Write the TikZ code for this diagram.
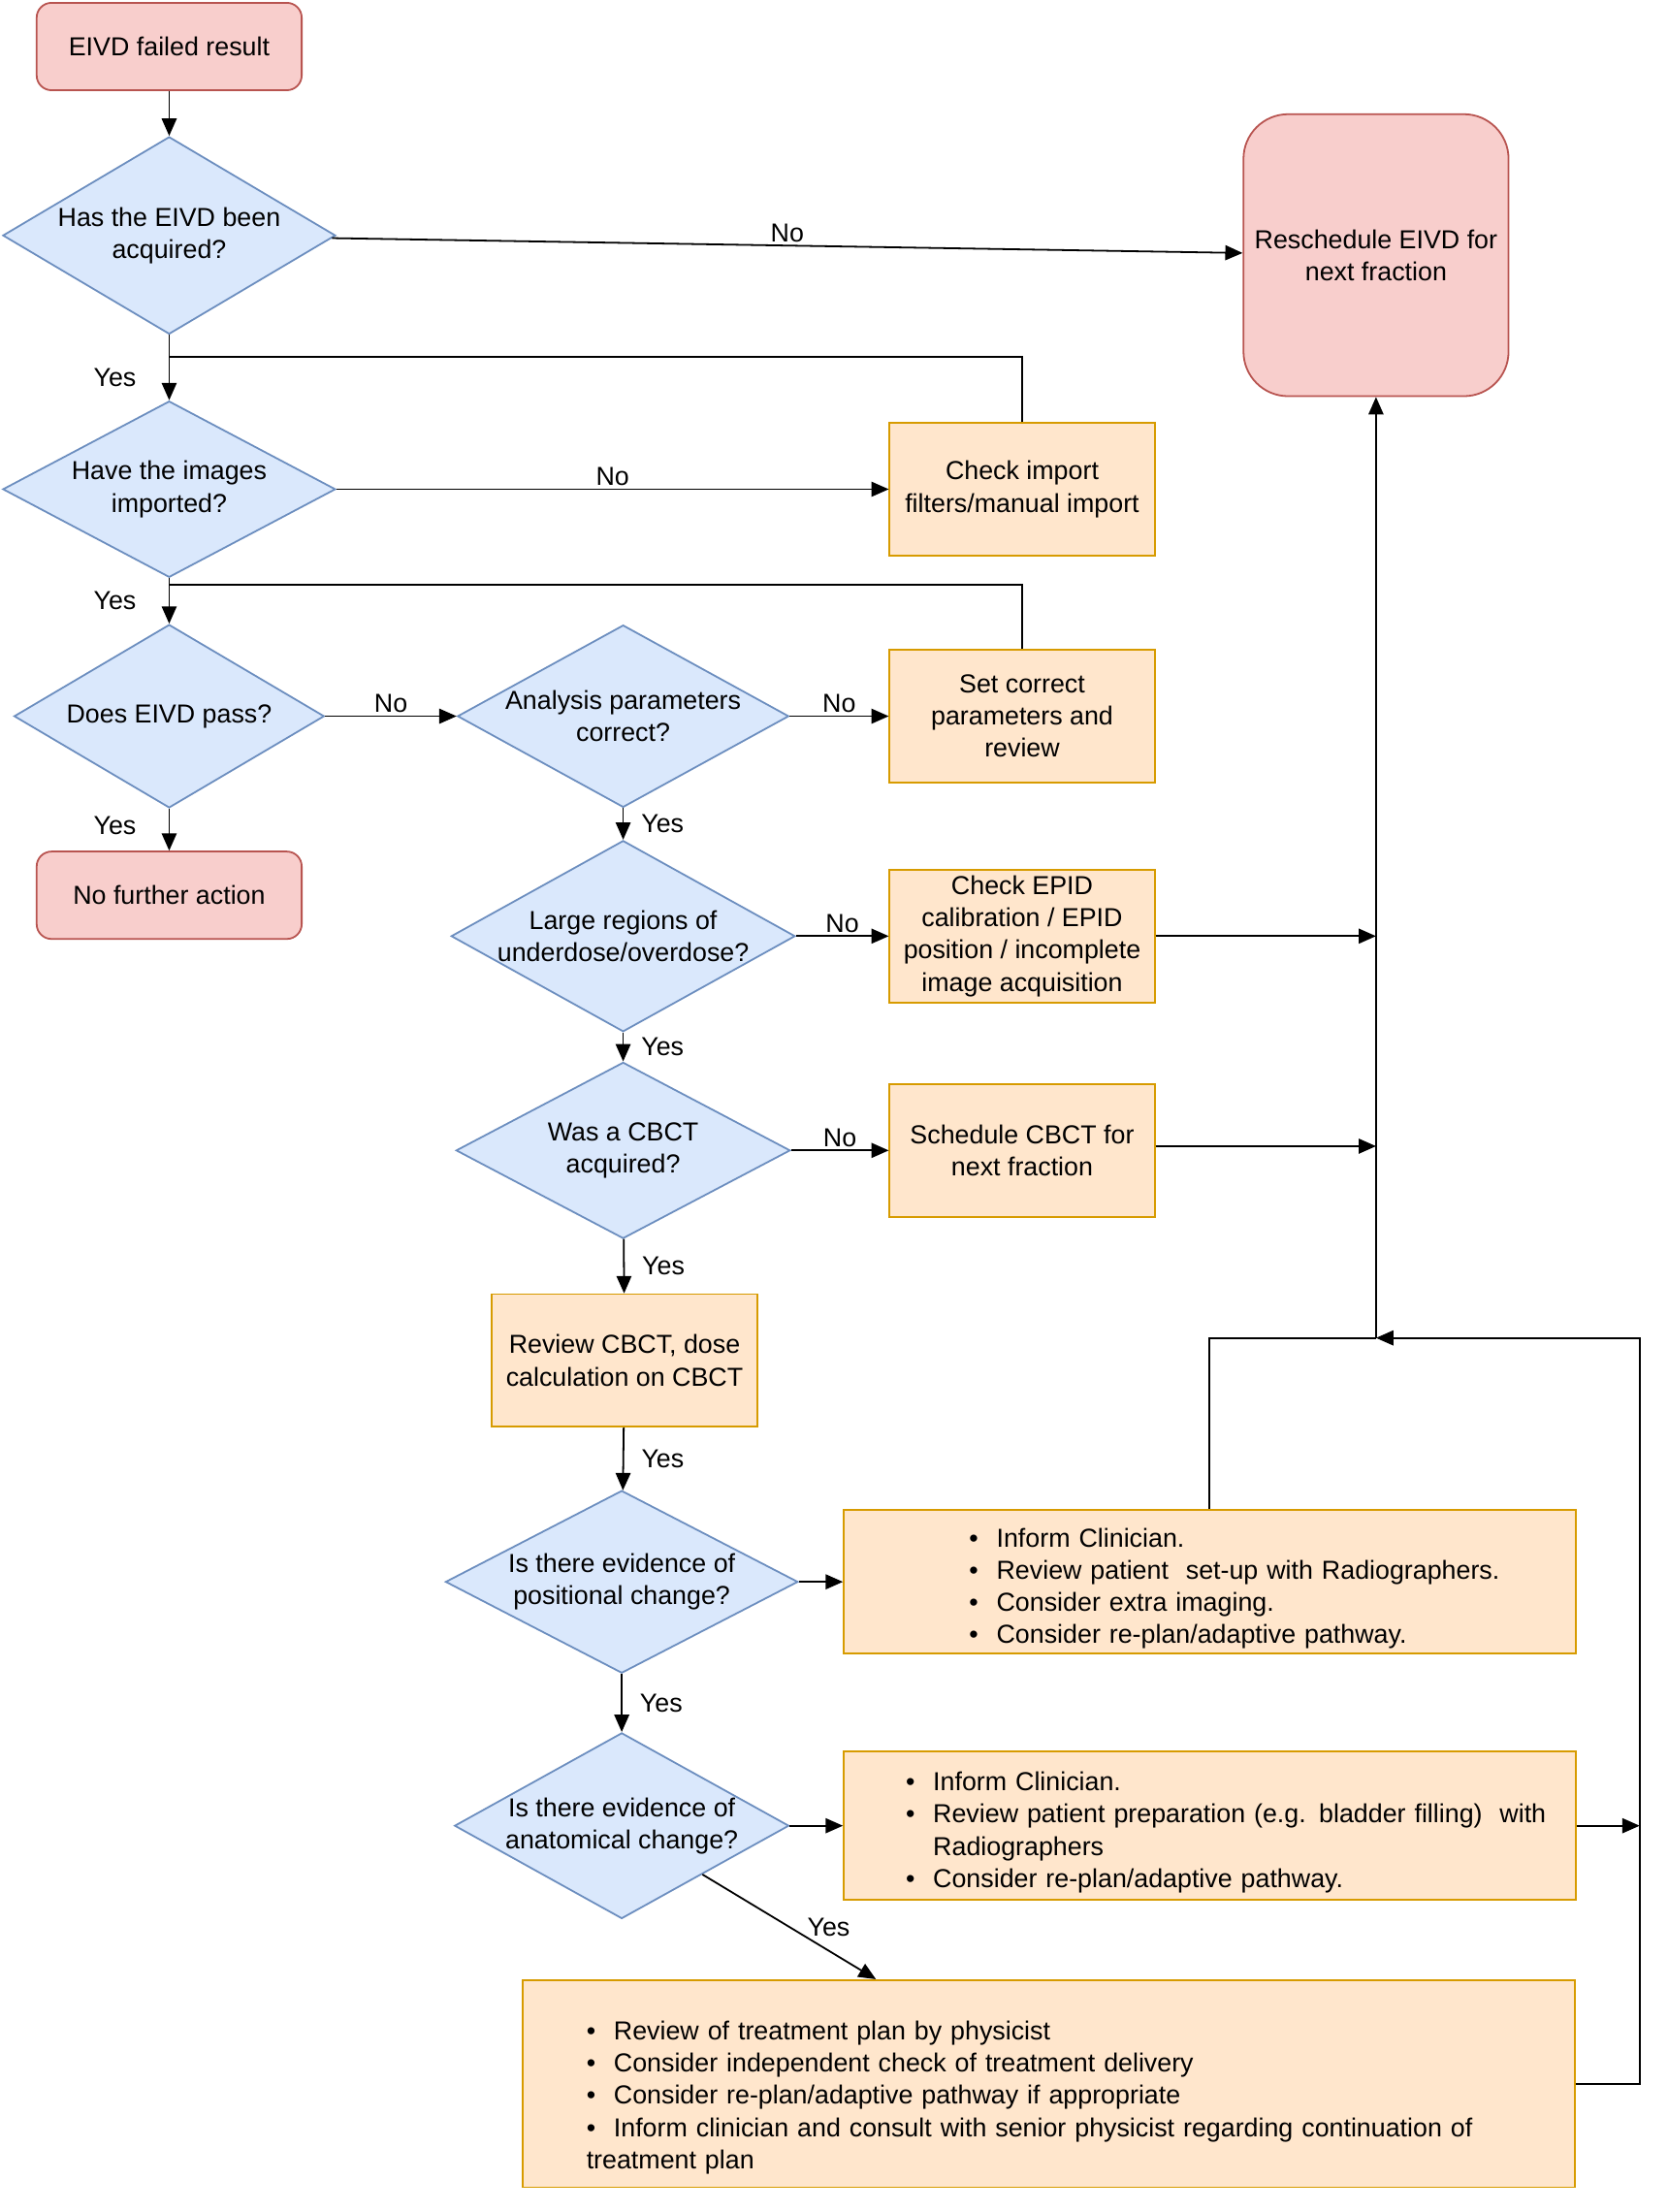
\documentclass[tikz,border=0pt]{standalone}
\usepackage{fontspec}
\setmainfont{Liberation Sans}
\usetikzlibrary{shapes.geometric,arrows.meta,calc}
\definecolor{redfill}{HTML}{F8CECC}
\definecolor{redline}{HTML}{B85450}
\definecolor{orfill}{HTML}{FFE6CC}
\definecolor{orline}{HTML}{D79B00}
\definecolor{blfill}{HTML}{DAE8FC}
\definecolor{blline}{HTML}{6C8EBF}
\newcommand\px[1]{#1*0.02cm}
\newcommand\bitem[1]{\par\hangindent=1.05em\hangafter=1\noindent\makebox[1.05em][l]{\textbullet}#1}
\tikzset{
  every node/.style={font=\fontsize{10.5}{13}\selectfont},
  redbox/.style={draw=redline, fill=redfill, rounded corners=6pt, align=center, inner sep=2pt},
  obox/.style={draw=orline, fill=orfill, align=center, inner sep=2pt, minimum width=\px{188}, minimum height=\px{94}},
  dec/.style={diamond, aspect=1.8, draw=blline, fill=blfill, align=center, inner sep=0pt},
  lbl/.style={inner sep=1pt},
  >={Triangle[length=7pt,width=6pt]}
}
\begin{document}
\begin{tikzpicture}[x=0.02cm, y=-0.02cm, line width=0.7pt]
\useasboundingbox (0,0) rectangle (1183,1569);
% nodes
\node[redbox, minimum width=\px{188}, minimum height=\px{62}] (fail) at (120,33) {EIVD failed result};
\node[dec, minimum width=\px{236}, minimum height=\px{140}] (acq) at (120,167) {Has the EIVD been\\acquired?};
\node[redbox, rounded corners=18pt, minimum width=\px{188}, minimum height=\px{200}] (resched) at (976,181) {Reschedule EIVD for\\next fraction};
\node[dec, minimum width=\px{236}, minimum height=\px{125}] (imp) at (120,347) {Have the images\\imported?};
\node[obox] (chkimp) at (725,347) {Check import\\filters/manual import};
\node[dec, minimum width=\px{220}, minimum height=\px{130}] (pass) at (120,508) {Does EIVD pass?};
\node[dec, minimum width=\px{235}, minimum height=\px{124}] (param) at (442,508) {Analysis parameters\\correct?};
\node[obox] (setpar) at (725,508) {Set correct\\parameters and\\review};
\node[redbox, minimum width=\px{188}, minimum height=\px{62}] (nofur) at (120,635) {No further action};
\node[dec, minimum width=\px{237}, minimum height=\px{125}] (dose) at (442,664) {Large regions of\\underdose/overdose?};
\node[obox] (epid) at (725,664) {Check EPID\\calibration / EPID\\position / incomplete\\image acquisition};
\node[dec, minimum width=\px{237}, minimum height=\px{125}] (cbct) at (442,816) {Was a CBCT\\acquired?};
\node[obox] (schcbct) at (725,816) {Schedule CBCT for\\next fraction};
\node[obox] (revcbct) at (443,965) {Review CBCT, dose\\calculation on CBCT};
\node[dec, minimum width=\px{250}, minimum height=\px{125}] (posch) at (441,1122) {Is there evidence of\\positional change?};
\node[obox, minimum width=\px{519}, minimum height=\px{102}] (inf1) at (858,1122) {};
\node[anchor=west, text width=\px{420}, align=left, inner sep=0pt] (inf1t) at ($(inf1.west)+(89,0)$) {%
\bitem{Inform Clinician.}\bitem{Review patient\ \ set-up with Radiographers.}\bitem{Consider extra imaging.}\bitem{Consider re-plan/adaptive pathway.}};
\node[dec, minimum width=\px{237}, minimum height=\px{125}] (anach) at (441,1295) {Is there evidence of\\anatomical change?};
\node[obox, minimum width=\px{519}, minimum height=\px{105}] (inf2) at (858,1295) {};
\node[anchor=west, text width=\px{455}, align=left, inner sep=0pt] (inf2t) at ($(inf2.west)+(44,0)$) {%
\bitem{Inform Clinician.}\bitem{Review patient preparation (e.g. bladder filling)\ \ with Radiographers}\bitem{Consider re-plan/adaptive pathway.}};
\node[obox, minimum width=\px{746}, minimum height=\px{147}] (phys) at (744,1478) {};
\node[anchor=west, text width=\px{650}, align=left, inner sep=0pt] (physt) at ($(phys.west)+(45,5)$) {%
\bitem{Review of treatment plan by physicist}\bitem{Consider independent check of treatment delivery}\bitem{Consider re-plan/adaptive pathway if appropriate}\bitem{Inform clinician and consult with senior physicist regarding continuation of treatment plan}};
\coordinate (j1) at (976,664);
\coordinate (j2) at (976,813);
\coordinate (j3) at (976,949);
% connectors
\draw[->] (fail) -- (acq);
\draw[->] (acq) -- node[lbl, above, pos=0.5] {No} (resched);
\draw[->] (acq) -- node[lbl, left, pos=0.65, xshift=-12pt] {Yes} (imp);
\draw (chkimp.north) |- (120,253);
\draw[->] (imp) -- node[lbl, above] {No} (chkimp);
\draw[->] (imp) -- node[lbl, left, pos=0.5, xshift=-12pt] {Yes} (pass);
\draw (setpar.north) |- (120,415);
\draw[->] (pass) -- node[lbl, above] {No} (param);
\draw[->] (pass) -- node[lbl, left, pos=0.4, xshift=-12pt] {Yes} (nofur);
\draw[->] (param) -- node[lbl, above] {No} (setpar);
\draw[->] (param) -- node[lbl, right, xshift=6pt] {Yes} (dose);
\draw[->] (dose) -- node[lbl, above] {No} (epid);
\draw[->] (epid) -- (j1);
\draw[->] (dose) -- node[lbl, right, xshift=6pt] {Yes} (cbct);
\draw[->] (cbct) -- node[lbl, above] {No} (schcbct);
\draw[->] (schcbct.east |- j2) -- (j2);
\draw[->] (cbct) -- node[lbl, right, xshift=6pt] {Yes} (revcbct);
\draw[->] (revcbct) -- node[lbl, right, xshift=6pt] {Yes} (posch);
\draw[->] (posch) -- (inf1);
\draw[->] (posch) -- node[lbl, right, xshift=6pt] {Yes} (anach);
\draw[->] (anach) -- (inf2);
\draw[->] (anach) -- node[lbl, right, xshift=6pt] {Yes} (phys);
\draw (inf1.north) |- (j3);
\draw[->] (j3) -- (resched.south);
\draw[->] (phys.east) -- (1163,1478) |- (j3);
\draw[->] (inf2.east) -- (1163,1295);
\end{tikzpicture}
\end{document}
